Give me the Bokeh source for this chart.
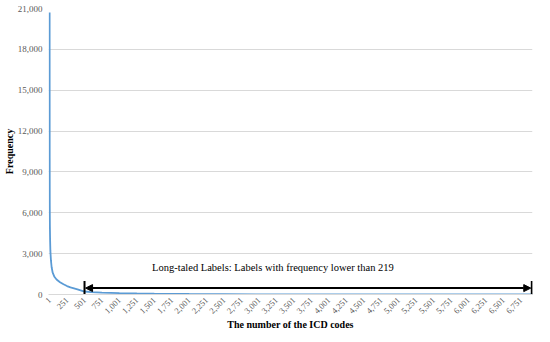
from bokeh.plotting import figure
from bokeh.models import (Range1d, FixedTicker, NumeralTickFormatter, Arrow, NormalHead,
                          Label, ColumnDataSource)
from bokeh.embed import file_html
from bokeh.resources import INLINE
import math

# Data (rank of ICD code, frequency)
ranks = [1, 2, 3, 5, 8, 12, 20, 30, 45, 70, 100, 150, 200, 250, 300, 400, 501,
         600, 750, 1000, 1250, 1500, 2000, 2500, 3000, 4000, 5000, 6000, 6918]
freqs = [20700, 10000, 6500, 5000, 4000, 3200, 2500, 2000, 1600, 1300, 1100, 900,
         750, 620, 520, 380, 219, 180, 140, 105, 80, 60, 40, 25, 15, 8, 4, 2, 1]

x_ticks = [1, 251, 501, 751, 1001, 1251, 1501, 1751, 2001, 2251, 2501, 2751, 3001,
           3251, 3501, 3751, 4001, 4251, 4501, 4751, 5001, 5251, 5501, 5751, 6001,
           6251, 6501, 6751]
y_ticks = [0, 3000, 6000, 9000, 12000, 15000, 18000, 21000]

n_codes = 6918
threshold_rank = 501
threshold_freq = 219
annotation = "Long-taled Labels: Labels with frequency lower than %d" % threshold_freq

SERIF = "Liberation Serif"

p = figure(width=534, height=333, output_backend="svg", toolbar_location=None,
           x_range=Range1d(-15, n_codes), y_range=Range1d(0, 21000),
           min_border_top=8, min_border_right=2, min_border_left=0, min_border_bottom=0)
p.outline_line_color = None
p.background_fill_color = "white"
p.border_fill_color = "white"

src = ColumnDataSource(dict(x=ranks, y=freqs))
p.line("x", "y", source=src, line_color="#5B9BD5", line_width=1.8)

# axes
p.xaxis.ticker = FixedTicker(ticks=x_ticks)
p.xaxis.formatter = NumeralTickFormatter(format="0,0")
p.xaxis.major_label_orientation = math.pi / 4
p.xaxis.axis_line_color = "#D9D9D9"
p.xaxis.major_tick_line_color = None
p.xaxis.minor_tick_line_color = None
p.xaxis.major_tick_out = 0
p.xaxis.major_tick_in = 0
p.xaxis.major_label_text_font = SERIF
p.xaxis.major_label_text_font_size = "8.5px"
p.xaxis.major_label_text_color = "#595959"
p.xaxis.major_label_standoff = 4
p.xaxis.axis_label = "The number of the ICD codes"
p.xaxis.axis_label_text_font = SERIF
p.xaxis.axis_label_text_font_style = "bold"
p.xaxis.axis_label_text_font_size = "10px"
p.xaxis.axis_label_text_color = "black"
p.xaxis.axis_label_standoff = 0

p.yaxis.ticker = FixedTicker(ticks=y_ticks)
p.yaxis.formatter = NumeralTickFormatter(format="0,0")
p.yaxis.axis_line_color = None
p.yaxis.major_tick_line_color = None
p.yaxis.minor_tick_line_color = None
p.yaxis.major_tick_out = 0
p.yaxis.major_tick_in = 0
p.yaxis.major_label_text_font = SERIF
p.yaxis.major_label_text_font_size = "9px"
p.yaxis.major_label_text_color = "#595959"
p.yaxis.major_label_standoff = 6
p.yaxis.axis_label = "Frequency"
p.yaxis.axis_label_text_font = SERIF
p.yaxis.axis_label_text_font_style = "bold"
p.yaxis.axis_label_text_font_size = "10px"
p.yaxis.axis_label_text_color = "black"
p.yaxis.axis_label_standoff = 0

p.xgrid.grid_line_color = None
p.ygrid.grid_line_color = "#D9D9D9"
p.ygrid.grid_line_width = 1

# annotation: double-headed arrow with end bars
arrow_y = 470
bar_top = 1000
p.segment(x0=[threshold_rank, n_codes - 10], y0=[0, 0],
          x1=[threshold_rank, n_codes - 10], y1=[bar_top, bar_top],
          line_color="black", line_width=2)
p.add_layout(Arrow(x_start=threshold_rank + 15, y_start=arrow_y,
                   x_end=n_codes - 25, y_end=arrow_y,
                   line_color="black", line_width=2,
                   start=NormalHead(size=7, fill_color="black", line_color="black"),
                   end=NormalHead(size=7, fill_color="black", line_color="black")))
p.add_layout(Label(x=3200, y=2000, text=annotation, text_font=SERIF,
                   text_font_size="10.5px", text_color="black",
                   text_align="center", text_baseline="middle"))

open("out.html", "w").write(file_html(p, INLINE))
